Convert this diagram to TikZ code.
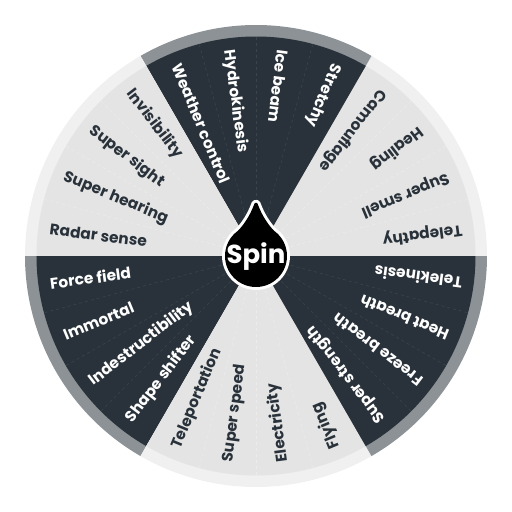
\documentclass[tikz,border=0pt]{standalone}
\usepackage{fontspec}
\setmainfont{Poppins}
\definecolor{dk}{HTML}{29323A}
\definecolor{lt}{HTML}{E4E4E4}
\definecolor{dkring}{HTML}{8C9296}
\definecolor{ltring}{HTML}{F0F0F0}
\definecolor{dkdiv}{HTML}{3A444B}
\definecolor{ltdiv}{HTML}{ECECEC}
\tikzset{
  lbl/.style={anchor=west, inner sep=0pt, font=\bfseries\fontsize{15.4}{16}\selectfont},
  divider/.style={dash pattern=on 3pt off 3pt, line width=0.6pt}
}
\begin{document}
\begin{tikzpicture}[x=1pt,y=1pt]
\useasboundingbox (-256,-256) rectangle (256,256);
% sectors
\foreach \a/\c/\rc/\dv in {0/lt/ltring/ltdiv,60/dk/dkring/dkdiv,120/lt/ltring/ltdiv,180/dk/dkring/dkdiv,240/lt/ltring/ltdiv,300/dk/dkring/dkdiv}{
  \fill[\rc] (0,0) -- (\a:231) arc[start angle=\a, delta angle=60, radius=231] -- cycle;
  \fill[\c] (0,0) -- (\a:219.5) arc[start angle=\a, delta angle=60, radius=219.5] -- cycle;
  \foreach \k in {15,30,45}{
    \draw[\dv, divider] (\a+\k:36) -- (\a+\k:219);
  }
}
% labels
\foreach \ang/\txt/\col [count=\i] in {
  7.5/Telepathy/dk, 22.5/Super smell/dk, 37.5/Healing/dk, 52.5/Camouflage/dk,
  67.5/Stretchy/white, 82.5/Ice beam/white, 97.5/Hydrokinesis/white, 112.5/Weather control/white,
  127.5/Invisibility/dk, 142.5/Super sight/dk, 157.5/Super hearing/dk, 172.5/Radar sense/dk,
  187.5/Force field/white, 202.5/Immortal/white, 217.5/Indestructibility/white, 232.5/Shape shifter/white,
  247.5/Teleportation/dk, 262.5/Super speed/dk, 277.5/Electricity/dk, 292.5/Flying/dk,
  307.5/Super strength/white, 322.5/Freeze breath/white, 337.5/Heat breath/white, 352.5/Telekinesis/white}{
  \node[lbl, text=\col, rotate=\ang+180] (l\i) at (\ang:208) {\txt};
}
% spin button
\path[draw=white, line width=6pt, line join=round]
  (0,0) circle[radius=31]
  (125:31) .. controls (-8,36) and (-4,46) .. (-1.5,52.5) .. controls (-0.7,53.6) and (0.7,53.6) .. (1.5,52.5) .. controls (4,46) and (8,36) .. (55:31);
\fill[black] (0,0) circle[radius=31];
\fill[black] (125:31) .. controls (-8,36) and (-4,46) .. (-1.5,52.5) .. controls (-0.7,53.6) and (0.7,53.6) .. (1.5,52.5) .. controls (4,46) and (8,36) .. (55:31) -- (0,0) -- cycle;
\node[text=white, font=\bfseries\fontsize{26}{27}\selectfont, inner sep=0pt] (spin) at (0,-1) {Spin};
\end{tikzpicture}
\end{document}
